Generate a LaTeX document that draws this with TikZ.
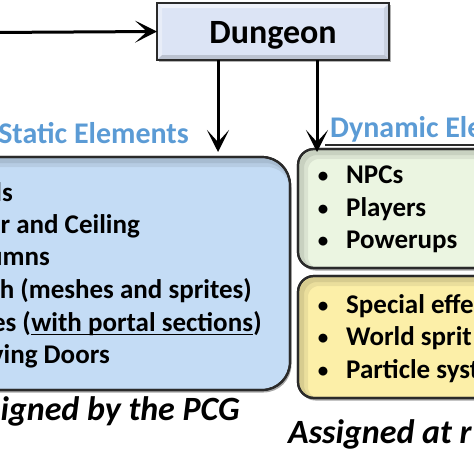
\documentclass[tikz,border=0pt]{standalone}
\usepackage{fontspec}
\setmainfont{Carlito}
\usetikzlibrary{arrows.meta,shadows}
\definecolor{blueT}{HTML}{5B9BD5}
\definecolor{stFill}{HTML}{C4DCF5}
\definecolor{grFill}{HTML}{EBF5E1}
\definecolor{ylFill}{HTML}{FCEFA8}
\definecolor{dgFill}{HTML}{DCE4F5}
\definecolor{edge}{HTML}{2A2A2A}
\begin{document}
\begin{tikzpicture}[x=1pt,y=-1pt,
  arr/.style={line width=3pt,-{Stealth[length=22pt,width=22pt,inset=12pt]}},
  panel/.style={draw=edge,line width=2.2pt,inner sep=0,outer sep=0,
     drop shadow={shadow xshift=1.5pt,shadow yshift=-2.5pt,opacity=.35,fill=black}},
  item/.style={inner sep=0,font=\fontsize{27}{27}\selectfont\bfseries},
  title/.style={inner sep=0,text=blueT,font=\fontsize{30}{30}\selectfont\bfseries},
  caption/.style={inner sep=0,font=\fontsize{34}{34}\selectfont\bfseries\itshape},
  bul/.style={inner sep=0,font=\fontsize{21}{21}\selectfont\bfseries}]
\useasboundingbox (0,0) rectangle (474,474);
\clip (0,0) rectangle (474,474);
% boxes
\node[panel,fill=stFill,rounded corners=28pt,minimum width=340pt,minimum height=233pt] (st) at (120,273.5) {};
\node[panel,fill=grFill,rounded corners=16pt,minimum width=240pt,minimum height=119pt] (gr) at (418,208.5) {};
\node[panel,fill=ylFill,rounded corners=16pt,minimum width=240pt,minimum height=122pt] (yl) at (418,337) {};
\foreach \b/\r in {st/28pt,gr/16pt,yl/16pt}{
  \begin{scope}
    \clip[rounded corners=\r] (\b.north west) rectangle (\b.south east);
    \draw[rounded corners=\r,line width=10pt,black,opacity=.07] ([xshift=5pt,yshift=-5pt]\b.north west) rectangle ([xshift=5pt,yshift=-5pt]\b.south east);
    \draw[rounded corners=\r,line width=6pt,black,opacity=.08] ([xshift=3pt,yshift=-3pt]\b.north west) rectangle ([xshift=3pt,yshift=-3pt]\b.south east);
  \end{scope}
  \draw[edge,line width=2.2pt,rounded corners=\r] (\b.north west) rectangle (\b.south east);
}
\coordinate (ln0) at (325,145);
\coordinate (ln1) at (480,145);
\draw[edge,line width=2pt] (ln0) -- (ln1);
% dungeon
\node[draw=edge,line width=1.5pt,fill=dgFill,minimum width=232pt,minimum height=57pt,inner sep=0,outer sep=0,
  drop shadow={shadow xshift=1.5pt,shadow yshift=-2pt,opacity=.3,fill=black}] (dg) at (273,31.5) {};
\fill[white,opacity=.55] (dg.north west) -- (dg.north east) -- ([xshift=-5pt,yshift=-5pt]dg.north east) -- ([xshift=5pt,yshift=-5pt]dg.north west) -- cycle;
\fill[white,opacity=.35] (dg.north west) -- (dg.south west) -- ([xshift=5pt,yshift=5pt]dg.south west) -- ([xshift=5pt,yshift=-5pt]dg.north west) -- cycle;
\fill[black,opacity=.15] (dg.south west) -- (dg.south east) -- ([xshift=-5pt,yshift=5pt]dg.south east) -- ([xshift=5pt,yshift=5pt]dg.south west) -- cycle;
\fill[black,opacity=.08] (dg.north east) -- (dg.south east) -- ([xshift=-5pt,yshift=5pt]dg.south east) -- ([xshift=-5pt,yshift=-5pt]dg.north east) -- cycle;
\draw[edge,line width=1.5pt] (dg.north west) rectangle (dg.south east);
\node[inner sep=0,anchor=base,font=\fontsize{34}{34}\selectfont\bfseries] (dgt) at (273,43.5) {Dungeon};
% arrows
\coordinate (inL) at (-10,32.5);
\coordinate (a1) at (218,0);
\coordinate (a2) at (317,0);
\draw[arr] (inL) -- (dg.west);
\draw[arr,shorten >=5pt] (dg.south -| a1) -- (st.north -| a1);
\draw[arr,shorten >=-3pt] (dg.south -| a2) -- (gr.north -| a2);
% titles
\node[title,anchor=base east] (tst) at (189,143) {Static Elements};
\node[title,anchor=base west] (tdy) at (330,137) {Dynamic Ele};
% static items
\node[item,anchor=base east] (s1) at (13,201) {ls};
\node[item,anchor=base east] (s2) at (140,233) {r and Ceiling};
\node[item,anchor=base east] (s3) at (50,265) {umns};
\node[item,anchor=base east] (s4) at (252,298) {h (meshes and sprites)};
\node[item,anchor=base east] (s5c) at (262,331) {)};
\node[item,anchor=base east] (s5b) at (s5c.base west) {with portal sections};
\node[item,anchor=base east] (s5a) at (s5b.base west) {es (};
\draw[line width=1.6pt] ([yshift=-3.5pt]s5b.base west) -- ([yshift=-3.5pt]s5b.base east);
\node[item,anchor=base east] (s6) at (110,363) {ving Doors};
% dynamic items
\foreach \n/\y/\t in {d1/183/NPCs,d2/216/Players,d3/248/Powerups,d4/313/Special effe,d5/345/World sprit,d6/378/Particle syst}{
  \node[bul,anchor=base] (\n b) at (323,\y-1) {•};
  \node[item,anchor=base west] (\n) at (346,\y) {\t};
}
% captions
\node[caption,anchor=base east] (c1) at (240,420) {igned by the PCG};
\node[caption,anchor=base west] (c2) at (288,443) {Assigned at r};
\end{tikzpicture}
\end{document}
